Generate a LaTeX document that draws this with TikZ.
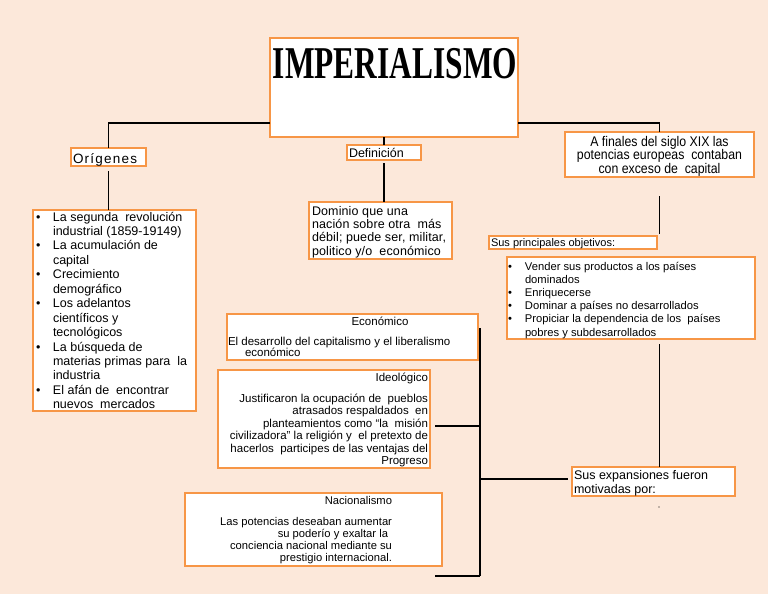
\documentclass[tikz,border=0pt]{standalone}
\usepackage{fontspec}
\setmainfont{Liberation Sans}
\newfontfamily\narrowf[FakeStretch=0.88]{Liberation Sans}
\newfontfamily\titlef[FakeStretch=0.69]{Liberation Serif}
\newfontfamily\spacedf[LetterSpace=9]{Liberation Sans}
\newfontfamily\defspf[LetterSpace=1]{Liberation Sans}
\newcommand{\LLines}[1]{\vtop{\halign{##\hfil\cr#1\crcr}}}
\newcommand{\RLines}[1]{\vtop{\halign{\hfil##\cr#1\crcr}}}
\newcommand{\CLines}[1]{\vtop{\halign{\hfil##\hfil\cr#1\crcr}}}
\newcommand{\bitem}{\makebox[17pt][l]{\textbullet}}
\newcommand{\bind}{\kern17pt}
\definecolor{bgc}{HTML}{FCE8DA}
\definecolor{boxorange}{HTML}{F79646}
\tikzset{
  box/.style={draw=boxorange, line width=1.6pt, fill=white, inner sep=0pt, outer sep=0pt},
  conn/.style={line width=1.8pt, black},
  txt/.style={inner sep=0pt, outer sep=0pt, text=black},
  sz/.style 2 args={font={\fontsize{#1}{#2}\selectfont\lineskiplimit=-30pt\lineskip=0pt}},
}
\begin{document}
\begin{tikzpicture}[x=1pt,y=-1pt]
\fill[bgc] (0,0) rectangle (768,594);
\useasboundingbox (0,0) rectangle (768,594);

% ---------- boxes ----------
\node[box, minimum width=248pt, minimum height=99pt] (title) at (394,87.5) {};
\node[box, minimum width=75pt, minimum height=18pt] (origenes) at (108.5,157) {};
\node[box, minimum width=163pt, minimum height=201pt] (origlist) at (114.5,310.5) {};
\node[box, minimum width=74pt, minimum height=15pt] (defin) at (384,152.5) {};
\node[box, minimum width=143pt, minimum height=57pt] (deftext) at (380.5,230.5) {};
\node[box, minimum width=189pt, minimum height=45pt] (afinales) at (659.5,154.5) {};
\node[box, minimum width=168pt, minimum height=13pt] (objt) at (573,242.5) {};
\node[box, minimum width=248pt, minimum height=82pt] (objlist) at (631,298) {};
\node[box, minimum width=251pt, minimum height=46pt] (econ) at (352.5,337) {};
\node[box, minimum width=212pt, minimum height=98pt] (ideo) at (324,419) {};
\node[box, minimum width=257pt, minimum height=73pt] (nac) at (313.5,529.5) {};
\node[box, minimum width=163pt, minimum height=29pt] (expan) at (653.5,481.5) {};

% ---------- connectors ----------
\coordinate (ybar) at (0,123);
\draw[conn] (title.west |- ybar) -| (origenes.north);
\draw[conn] (title.east |- ybar) -| (afinales.north);
\draw[conn, shorten <=5pt] (origenes.south) -- (origenes.south |- origlist.north);
\draw[conn] (defin.north) -- (defin.north |- title.south);
\draw[conn, shorten <=3pt] (defin.south) -- (defin.south |- deftext.north);
\draw[conn, shorten <=19pt, shorten >=2pt] (afinales.south) -- (afinales.south |- objt.north);
\draw[conn, shorten <=5pt] (afinales.south |- objlist.south) -- (afinales.south |- expan.north);
\coordinate (busTop) at (480,328);
\coordinate (busBot) at (480,576);
\coordinate (ideoTap) at (480,426);
\coordinate (expTap) at (480,479);
\coordinate (nacEnd) at (435,576);
\draw[conn] (busTop) -- (busBot);
\draw[conn, shorten <=5pt] (ideo.east |- ideoTap) -- (ideoTap);
\draw[conn, shorten >=4pt] (expTap) -- (expan.west |- expTap);
\draw[conn] (nacEnd) -- (busBot);
\fill (659,507) circle (0.6pt);

% ---------- texts ----------
\node[txt, anchor=base, font={\titlef\bfseries\fontsize{45.5}{45}\selectfont}] (titletxt) at (395,78) {IMPERIALISMO};
\node[txt, anchor=base west, font={\spacedf\fontsize{13.5}{14}\selectfont}] (origenestxt) at (73,163) {Orígenes};
\node[txt, anchor=base west, sz={12.5}{14.45}] (origlisttxt) at (36,221) {\LLines{%
\bitem La segunda\ \ revolución\cr
\bind industrial (1859-19149)\cr
\bitem La acumulación de\cr
\bind capital\cr
\bitem Crecimiento\cr
\bind demográfico\cr
\bitem Los adelantos\cr
\bind científicos y\cr
\bind tecnológicos\cr
\bitem La búsqueda de\cr
\bind materias primas para\ \ la\cr
\bind industria\cr
\bitem El afán de\ \ encontrar\cr
\bind nuevos\ \ mercados}};
\node[txt, anchor=base west, sz={12.5}{13}] (defintxt) at (349,157) {Definición};
\node[txt, anchor=base west, font={\defspf\fontsize{12.5}{13.4}\selectfont\lineskiplimit=-30pt\lineskip=0pt}] (deftexttxt) at (312,215) {\LLines{%
Dominio que una\cr
nación sobre otra\ \ más\cr
débil; puede ser, militar,\cr
politico y/o\ \ económico}};
\node[txt, anchor=base, font={\narrowf\fontsize{14}{13.5}\selectfont\lineskiplimit=-30pt\lineskip=0pt}] (afinalestxt) at (659.5,146) {\CLines{%
A finales del siglo XIX las\cr
potencias europeas\ \ contaban\cr
con exceso de\ \ capital}};
\node[txt, anchor=base west, sz={11}{12}] (objttxt) at (491,246) {Sus principales objetivos:};
\node[txt, anchor=base west, sz={11.2}{13.2}] (objlisttxt) at (508,270) {\LLines{%
\bitem Vender sus productos a los países\cr
\bind dominados\cr
\bitem Enriquecerse\cr
\bitem Dominar a países no desarrollados\cr
\bitem Propiciar la dependencia de los\ \ países\cr
\bind pobres y subdesarrollados}};
\node[txt, anchor=base, sz={11.5}{12}] (econtitle) at (380,325) {Económico};
\node[txt, anchor=base west, sz={11.5}{11}] (econtxt) at (228,345) {\LLines{%
El desarrollo del capitalismo y el liberalismo\cr
\kern17pt económico}};
\node[txt, anchor=base east, sz={11.5}{12}] (ideotitle) at (428,381) {Ideológico};
\node[txt, anchor=base east, sz={11.5}{12.5}] (ideotxt) at (428,402) {\RLines{%
Justificaron la ocupación de\ \ pueblos\cr
atrasados respaldados\ \ en\cr
planteamientos como “la\ \ misión\cr
civilizadora” la religión y\ \ el pretexto de\cr
hacerlos\ \ participes de las ventajas del\cr
Progreso}};
\node[txt, anchor=base east, sz={11.2}{12}] (nactitle) at (392,504) {Nacionalismo};
\node[txt, anchor=base east, sz={11.2}{12.3}] (nactxt) at (392,525) {\RLines{%
Las potencias deseaban aumentar\cr
su poderío y exaltar la\kern4pt\cr
conciencia nacional mediante su\cr
prestigio internacional.}};
\node[txt, anchor=base west, sz={12.5}{14}] (expantxt) at (574,479) {\LLines{%
Sus expansiones fueron\cr
motivadas por:}};
\end{tikzpicture}
\end{document}
